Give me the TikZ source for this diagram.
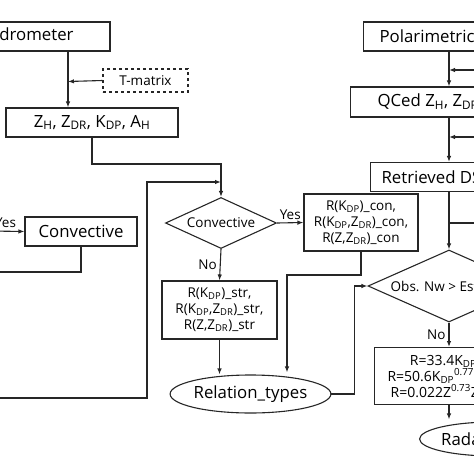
\documentclass[tikz,border=0pt]{standalone}
\usepackage{fontspec}
\setmainfont{Open Sans}
\usetikzlibrary{shapes.geometric,arrows.meta}
\begin{document}
\begin{tikzpicture}[x=1pt,y=-1pt,
  line width=1.1pt, draw=black!85,
  big/.style={font=\fontsize{16.8}{19}\selectfont},
  mid/.style={font=\fontsize{13.5}{16}\selectfont},
  box/.style={draw, inner sep=0pt},
  dia/.style={draw, diamond, inner sep=0pt},
  ell/.style={draw, ellipse, inner sep=0pt},
  arr/.style={-{Latex[length=6pt,width=4.5pt]}},
  lab/.style={mid, inner sep=0pt}]
\useasboundingbox (0,0) rectangle (474,474);
\clip (0,0) rectangle (474,474);
% left column
\node[box, big, minimum width=168pt, minimum height=29pt] (hydro) at (26,36.5) {Hydrometer};
\node[box, dashed, mid, minimum width=85pt, minimum height=23pt] (tmat) at (145.5,80.5) {T-matrix};
\node[box, big, minimum width=172pt, minimum height=29pt] (zh) at (92,122.5) {Z\textsubscript{H}, Z\textsubscript{DR}, K\textsubscript{DP}, A\textsubscript{H}};
\node[box, big, minimum width=112pt, minimum height=29pt] (lconv) at (81,231.5) {Convective};
\node[dia, minimum width=111pt, minimum height=51pt, label={[mid]center:Convective}] (convd) at (221,223) {};
\node[box, mid, align=center, minimum width=114pt, minimum height=57pt] (con) at (361,222.5) {R(K\textsubscript{DP})\_con,\\R(K\textsubscript{DP},Z\textsubscript{DR})\_con,\\R(Z,Z\textsubscript{DR})\_con};
\node[box, mid, align=center, minimum width=115pt, minimum height=58pt] (str) at (219.5,310) {R(K\textsubscript{DP})\_str,\\R(K\textsubscript{DP},Z\textsubscript{DR})\_str,\\R(Z,Z\textsubscript{DR})\_str};
\node[ell, big, minimum width=139pt, minimum height=38pt] (rel) at (250.5,394) {Relation\_types};
% right column
\node[box, big, anchor=west, minimum height=29pt, inner xsep=16pt] (pol) at (363,36.5) {Polarimetric radar};
\node[box, big, anchor=west, minimum height=30pt, inner xsep=27pt] (qc) at (350,102) {QCed Z\textsubscript{H}, Z\textsubscript{DR}, K\textsubscript{DP}, A\textsubscript{H}};
\node[box, big, anchor=west, minimum height=29pt, inner xsep=11pt] (ret) at (370,177) {Retrieved DSD};
\node[dia, minimum width=162pt, minimum height=72pt, label={[mid]center:Obs. Nw > Est. Nw}] (obsd) at (449,286) {};
\node[box, font=\fontsize{14}{16}\selectfont, align=center, anchor=north west, minimum height=57pt, inner xsep=13pt, inner ysep=0pt] (rate) at (374,347) {R=33.4K\textsubscript{DP}\textsuperscript{0.83}\\R=50.6K\textsubscript{DP}\textsuperscript{0.77}Z\textsubscript{DR}\textsuperscript{-0.53}\\R=0.022Z\textsuperscript{0.73}Z\textsubscript{DR}\textsuperscript{-1.37}};
\node[ell, big, minimum width=125pt, minimum height=34pt] (rad) at (493.5,439) {Radar rainfall};
% coordinates
\coordinate (j1) at (68,81.5);
\coordinate (j2) at (221,164);
\coordinate (j3) at (221,182);
\coordinate (lin) at (-10,398);
\coordinate (lyes) at (-10,231);
\coordinate (lout) at (-10,272);
\coordinate (j4) at (287,275);
\coordinate (col) at (449,0);
\coordinate (jp) at (449,70);
\coordinate (jq) at (449,137);
\coordinate (jr) at (449,223);
\coordinate (rin1) at (480,70);
\coordinate (rin2) at (480,137);
\coordinate (rin3) at (480,223);
% connectors left
\draw[arr] (hydro.south -| j1) -- (zh.north -| j1);
\draw[arr] (tmat.west) -- (j1);
\draw[arr] (zh.south) |- (j2) -- (convd.north);
\draw[arr] (lin) -- ++(157,0) |- (j3);
\draw[arr] (lyes) -- (lconv.west) node[lab, pos=0.45, above=3pt] (yes1) {Yes};
\draw (lconv.south) |- (lout);
\draw[arr] (convd.east) -- (con.west) node[lab, midway, above=3pt] (yes2) {Yes};
\draw[arr] (convd.south) -- (str.north) node[lab, midway, left=3pt] (no1) {No};
\draw[arr] (str.south) -- (str.south |- rel.north);
\draw[arr] (con.south) |- (j4) -- ([yshift=2pt]j4 |- rel.north);
\draw[arr] (rel.east) -- ++(23,0) |- (obsd.west);
% connectors right
\draw[arr] (pol.south -| col) -- (qc.north -| col);
\draw[arr] (rin1) -- (jp);
\draw[arr] (qc.south -| col) -- (ret.north -| col);
\draw[arr] (rin2) -- (jq);
\draw[arr] (ret.south -| col) -- (obsd.north);
\draw (rin3) -- (jr);
\draw[arr] (obsd.south) -- (rate.north -| col) node[lab, midway, left=3pt] (no2) {No};
\draw[arr] (rate.south -| col) -- ([yshift=2pt]col |- rad.north);
\end{tikzpicture}
\end{document}
